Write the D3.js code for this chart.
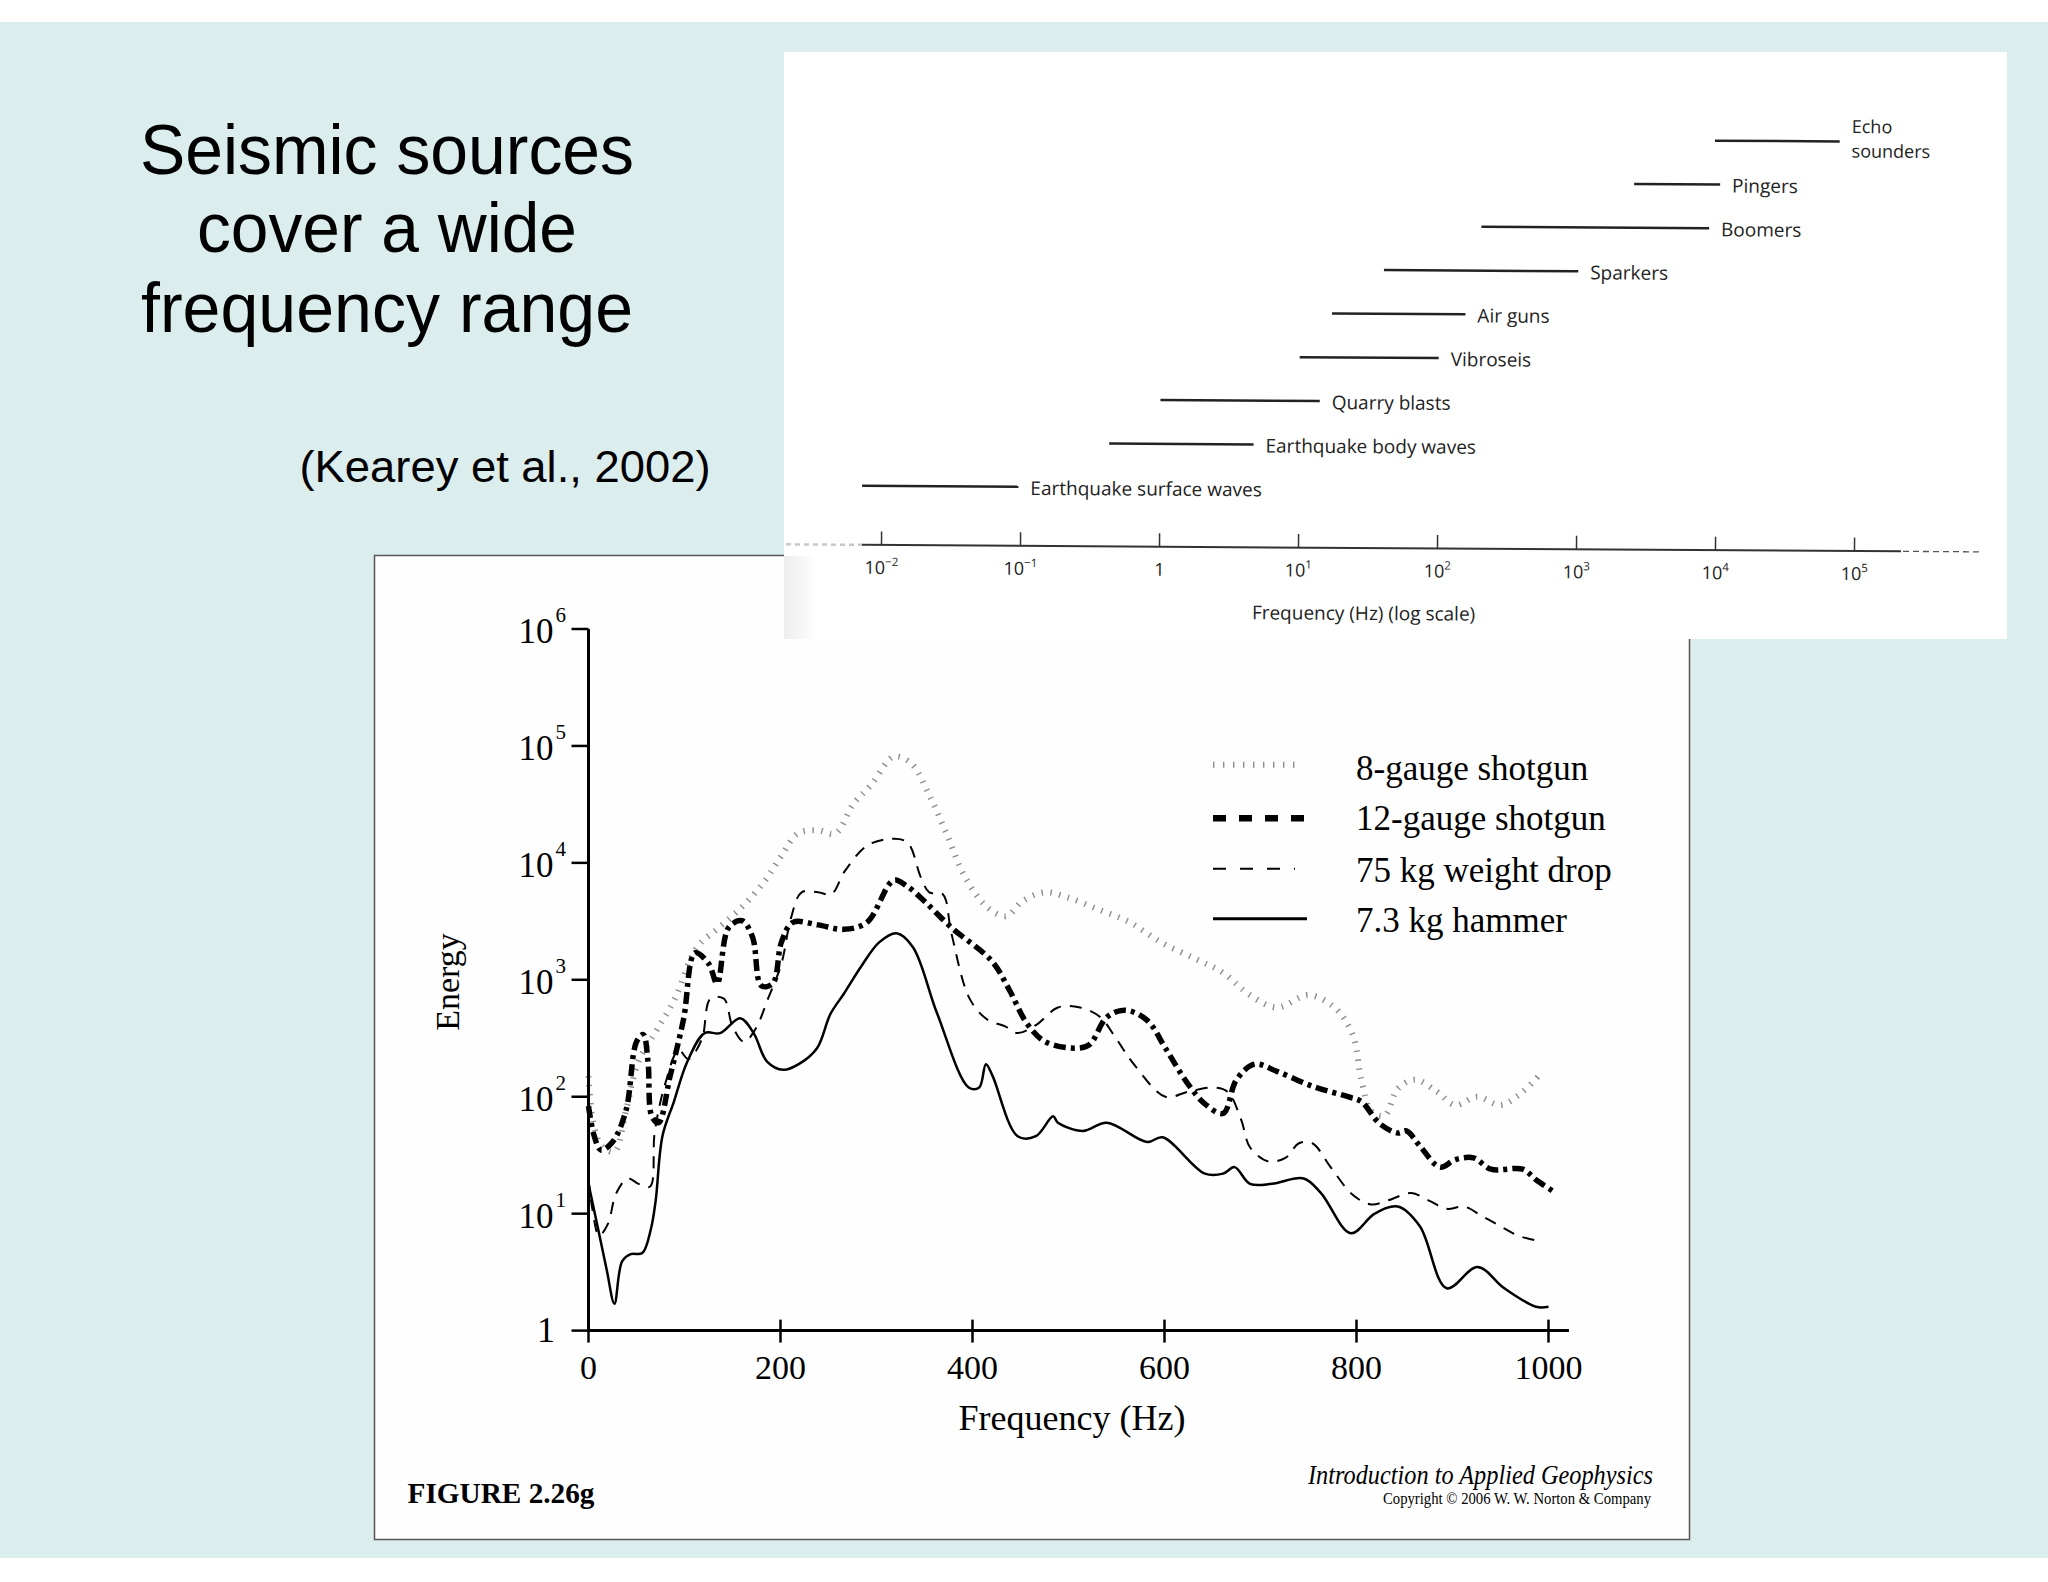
<!DOCTYPE html>
<html><head><meta charset="utf-8">
<script src="https://cdn.jsdelivr.net/npm/d3@7"></script>
<style>html,body{margin:0;padding:0;background:#fff;}svg{display:block;}</style>
</head><body>
<svg id="c" width="2048" height="1582"></svg>
<script>
// ---------------- DATA ----------------
const titleLines = ["Seismic sources", "cover a wide", "frequency range"];
const citation = "(Kearey et al., 2002)";

// Top-right chart: frequency ranges of seismic sources (Hz)
const sourceNames = ["Echo sounders", "Pingers", "Boomers", "Sparkers", "Air guns", "Vibroseis", "Quarry blasts", "Earthquake body waves", "Earthquake surface waves"];
const sourceMinHz = [9500, 2500, 200, 40, 17, 10, 1.0, 0.43, 0.0072];
const sourceMaxHz = [75000, 10400, 8700, 1000, 155, 100, 14, 4.7, 0.096];
const logTickExponents = [-2, -1, 0, 1, 2, 3, 4, 5];
const logAxisTitle = "Frequency (Hz) (log scale)";

// Bottom chart: energy spectra
const seriesNames = ["8-gauge shotgun", "12-gauge shotgun", "75 kg weight drop", "7.3 kg hammer"];
const gauge8Freq = [0,6,15,27,39,52,71,90,113,136,160,183,201,218,239,257,276,295,318,336,355,374,392,415,435,452,475,498,531,564,596,633,661,689,717,750,777,796,805,815,829,843,861,884,903,926,950,973,994];
const gauge8Energy = [150,54,37,34,76,200,370,690,1900,2800,4200,6900,11500,17800,19000,17800,32000,47000,81000,71000,38000,17000,7600,4200,3500,4700,5600,5100,4000,3100,2100,1500,1150,740,580,740,580,340,140,76,69,117,140,110,85,100,85,110,165];
const gauge12Freq = [0,6,13,25,39,50,57,62,66,73,85,99,111,125,134,146,160,171,180,192,201,213,239,266,290,318,332,350,378,420,438,457,476,508,522,540,559,582,601,624,642,661,675,694,717,754,791,805,824,843,852,866,887,903,922,940,973,987,1005];
const gauge12Energy = [83,46,35,41,76,295,340,200,68,60,150,460,1700,1380,930,2800,3200,2300,890,930,2100,3100,2950,2700,3100,7100,6300,4700,2800,1450,830,420,295,260,280,480,550,450,260,130,87,72,140,190,165,123,100,91,59,49,51,38,25,29,30,24,24,19.5,15.5];
const dropFreq = [0,4,11,20,29,41,52,64,69,80,94,104,118,127,141,150,162,174,187,201,211,222,239,253,267,290,313,332,346,355,369,378,397,415,434,447,466,489,512,533,549,568,601,624,652,666,680,689,708,726,740,754,773,796,815,833,857,875,894,912,931,950,968,987];
const dropEnergy = [20,11,6.5,8.1,15,20,18,17,50,130,250,210,310,690,690,400,295,380,690,1380,3400,5600,5600,5400,8500,14000,16000,15000,7600,5600,5400,2500,690,460,400,350,410,580,580,480,320,190,100,110,120,110,63,37,28,30,40,40,25,14.5,12,13,15,13,11,11.5,9.5,7.8,6.5,5.9];
const hammerFreq = [0,10,19,27,35,44,56,65,70,77,89,103,121,137,158,172,186,203,219,238,252,266,284,303,321,338,363,396,407,414,421,447,466,484,489,515,540,582,598,642,661,673,689,712,745,763,794,819,843,866,894,926,954,987,1000];
const hammerEnergy = [18,7.4,3.3,1.7,3.9,4.5,4.6,7.4,13,46,91,200,350,350,470,350,200,170,190,260,510,760,1300,2100,2500,1900,520,120,120,190,150,46,46,68,60,51,60,41,45,22,22,25,18,18,20,15,6.8,10,11.5,7.8,2.3,3.5,2.3,1.6,1.6];
const energyTickExponents = [0, 1, 2, 3, 4, 5, 6];
const freqTicks = [0, 200, 400, 600, 800, 1000];

// ---------------- DRAWING ----------------
const W = 2048, H = 1582;
const svg = d3.select("#c");
const SANS = "'Liberation Sans', Arial, sans-serif";
const SERIF = "'Liberation Serif', 'Times New Roman', serif";
const FIG = "'Open Sans', 'Noto Sans', sans-serif";

svg.append("rect").attr("width", W).attr("height", H).attr("fill", "#ffffff");
svg.append("rect").attr("x", 0).attr("y", 22).attr("width", W).attr("height", 1536).attr("fill", "#dcedee");

// Title
const titleBase = [174, 252, 332], titleLen = [494, 380, 492];
titleLines.forEach((t, i) => {
  svg.append("text").attr("x", 387).attr("y", titleBase[i]).attr("text-anchor", "middle")
    .attr("font-family", SANS).attr("font-size", 71).attr("fill", "#000")
    .attr("textLength", titleLen[i]).attr("lengthAdjust", "spacingAndGlyphs").text(t);
});
svg.append("text").attr("x", 505).attr("y", 482).attr("text-anchor", "middle")
  .attr("font-family", SANS).attr("font-size", 44).attr("fill", "#000")
  .attr("textLength", 411).attr("lengthAdjust", "spacingAndGlyphs").text(citation);

// ---------- Bottom panel (energy spectra) ----------
svg.append("rect").attr("x", 374.5).attr("y", 555.5).attr("width", 1315).attr("height", 984)
  .attr("fill", "#fefefe").attr("stroke", "#555").attr("stroke-width", 1.5);

const x = d3.scaleLinear().domain([0, 1000]).range([588.5, 1548.5]);
const y = d3.scaleLog().domain([1, 1e6]).range([1330.6, 629]);
const g = svg.append("g");

// curves
const makeSeries = (fs, es) => fs.map((f, i) => ({f: f, e: es[i]}));
const line = d3.line().x(d => x(d.f)).y(d => y(d.e)).curve(d3.curveCatmullRom.alpha(0.5));
const styles = [
  {stroke: "#8c8c8c", width: 6, dash: "1.4 7.6", legendDash: "1.4 8.6"},
  {stroke: "#000", width: 5.5, dash: "12 5 4 5", legendDash: "13 13"},
  {stroke: "#000", width: 2, dash: "12 9", legendDash: "13 14"},
  {stroke: "#000", width: 2.5, dash: null, legendDash: null}
];
const allSeries = [
  makeSeries(gauge8Freq, gauge8Energy),
  makeSeries(gauge12Freq, gauge12Energy),
  makeSeries(dropFreq, dropEnergy),
  makeSeries(hammerFreq, hammerEnergy)
];
allSeries.forEach((s, i) => {
  g.append("path").attr("d", line(s)).attr("fill", "none")
    .attr("stroke", styles[i].stroke).attr("stroke-width", styles[i].width)
    .attr("stroke-dasharray", styles[i].dash).attr("stroke-linejoin", "round");
});

// axes
g.append("line").attr("x1", x(0)).attr("x2", 1569).attr("y1", y(1)).attr("y2", y(1)).attr("stroke", "#000").attr("stroke-width", 3);
g.append("line").attr("x1", x(0)).attr("x2", x(0)).attr("y1", y(1e6)).attr("y2", y(1) + 1.5).attr("stroke", "#000").attr("stroke-width", 3);
freqTicks.forEach(t => {
  g.append("line").attr("x1", x(t)).attr("x2", x(t)).attr("y1", y(1) - 11).attr("y2", y(1) + 12).attr("stroke", "#000").attr("stroke-width", 2.5);
  g.append("text").attr("x", x(t)).attr("y", 1379).attr("text-anchor", "middle")
    .attr("font-family", SERIF).attr("font-size", 34).attr("fill", "#000").text(t);
});
energyTickExponents.forEach(e => {
  const v = Math.pow(10, e);
  g.append("line").attr("x1", x(0) - 17).attr("x2", x(0)).attr("y1", y(v)).attr("y2", y(v)).attr("stroke", "#000").attr("stroke-width", 2.5);
  if (e === 0) {
    g.append("text").attr("x", 546).attr("y", y(v) + 11).attr("text-anchor", "middle")
      .attr("font-family", SERIF).attr("font-size", 36).attr("fill", "#000").text("1");
  } else {
    const t = g.append("text").attr("x", 566).attr("y", y(v) + 14).attr("text-anchor", "end")
      .attr("font-family", SERIF).attr("font-size", 35).attr("fill", "#000");
    t.append("tspan").text("10");
    t.append("tspan").attr("dx", 2).attr("dy", -21).attr("font-size", 21).text(e);
  }
});
g.append("text").attr("transform", "translate(459,982) rotate(-90)").attr("text-anchor", "middle")
  .attr("font-family", SERIF).attr("font-size", 34).attr("fill", "#000").text("Energy");
g.append("text").attr("x", 1072).attr("y", 1430).attr("text-anchor", "middle")
  .attr("font-family", SERIF).attr("font-size", 36).attr("fill", "#000").text("Frequency (Hz)");

// legend
const legSampleY = [764.7, 818.3, 868.8, 918.8];
const legTextY = [780, 830, 882, 932];
const legEnd = [1297, 1307, 1295, 1307];
seriesNames.forEach((n, i) => {
  g.append("line").attr("x1", 1213).attr("x2", legEnd[i]).attr("y1", legSampleY[i]).attr("y2", legSampleY[i])
    .attr("stroke", styles[i].stroke).attr("stroke-width", i === 1 ? 6.5 : (i === 3 ? 3 : styles[i].width))
    .attr("stroke-dasharray", styles[i].legendDash);
  g.append("text").attr("x", 1356).attr("y", legTextY[i]).attr("font-family", SERIF)
    .attr("font-size", 35).attr("fill", "#000").text(n);
});

// captions
g.append("text").attr("x", 407.5).attr("y", 1503).attr("font-family", SERIF).attr("font-weight", "bold")
  .attr("font-size", 29).attr("textLength", 187).attr("lengthAdjust", "spacingAndGlyphs").text("FIGURE 2.26g");
g.append("text").attr("x", 1653).attr("y", 1484).attr("text-anchor", "end").attr("font-family", SERIF)
  .attr("font-style", "italic").attr("font-size", 27).attr("textLength", 345).attr("lengthAdjust", "spacingAndGlyphs")
  .text("Introduction to Applied Geophysics");
g.append("text").attr("x", 1651).attr("y", 1504).attr("text-anchor", "end").attr("font-family", SERIF)
  .attr("font-size", 16).attr("textLength", 268).attr("lengthAdjust", "spacingAndGlyphs")
  .text("Copyright \u00A9 2006 W. W. Norton & Company");

// ---------- Top-right panel (log frequency ranges) ----------
const defs = svg.append("defs");
const grad = defs.append("linearGradient").attr("id", "shade").attr("x1", "0").attr("x2", "1").attr("y1", "0").attr("y2", "0");
grad.append("stop").attr("offset", "0").attr("stop-color", "#000").attr("stop-opacity", 0.07);
grad.append("stop").attr("offset", "1").attr("stop-color", "#000").attr("stop-opacity", 0);
svg.append("rect").attr("x", 784).attr("y", 52).attr("width", 1223).attr("height", 587).attr("fill", "#ffffff");
svg.append("rect").attr("x", 784).attr("y", 556).attr("width", 34).attr("height", 83).attr("fill", "url(#shade)");

const tp = svg.append("g").attr("transform", "rotate(0.36 1368 548)");
const xl = d3.scaleLog().domain([1e-2, 1e5]).range([881.5, 1854.5]);
const yb = d3.scalePoint().domain(sourceNames).range([138.5, 489]);
const axisY = 548;

tp.append("line").attr("x1", 786).attr("x2", 862).attr("y1", axisY).attr("y2", axisY)
  .attr("stroke", "#c8c8c8").attr("stroke-width", 2.5).attr("stroke-dasharray", "5 4");
tp.append("line").attr("x1", 862).attr("x2", 1901).attr("y1", axisY).attr("y2", axisY)
  .attr("stroke", "#333").attr("stroke-width", 2);
tp.append("line").attr("x1", 1903).attr("x2", 1982).attr("y1", axisY).attr("y2", axisY)
  .attr("stroke", "#555").attr("stroke-width", 1.3).attr("stroke-dasharray", "6 4");
logTickExponents.forEach(e => {
  const v = Math.pow(10, e);
  tp.append("line").attr("x1", xl(v)).attr("x2", xl(v)).attr("y1", axisY - 13.5).attr("y2", axisY)
    .attr("stroke", "#333").attr("stroke-width", 1.5);
  const t = tp.append("text").attr("x", xl(v)).attr("y", 577).attr("text-anchor", "middle")
    .attr("font-family", FIG).attr("font-size", 18).attr("fill", "#222");
  if (e === 0) { t.text("1"); }
  else {
    t.append("tspan").text("10");
    t.append("tspan").attr("dy", -8).attr("font-size", 11.5).text(String(e).replace("-", "\u2212"));
  }
});
tp.append("text").attr("x", 1364).attr("y", 620).attr("text-anchor", "middle")
  .attr("font-family", FIG).attr("font-size", 19).attr("fill", "#222").text(logAxisTitle);

sourceNames.forEach((n, i) => {
  const yy = yb(n);
  tp.append("line").attr("x1", xl(sourceMinHz[i])).attr("x2", xl(sourceMaxHz[i])).attr("y1", yy).attr("y2", yy)
    .attr("stroke", "#222").attr("stroke-width", 2.5);
  const tx = xl(sourceMaxHz[i]) + 12;
  if (n === "Echo sounders") {
    const t = tp.append("text").attr("font-family", FIG).attr("font-size", 18).attr("fill", "#222");
    t.append("tspan").attr("x", tx).attr("y", yy - 8.5).text("Echo");
    t.append("tspan").attr("x", tx).attr("y", yy + 16).text("sounders");
  } else {
    tp.append("text").attr("x", tx).attr("y", yy + 8).attr("font-family", FIG).attr("font-size", 19)
      .attr("fill", "#222").text(n);
  }
});
</script>
</body></html>
